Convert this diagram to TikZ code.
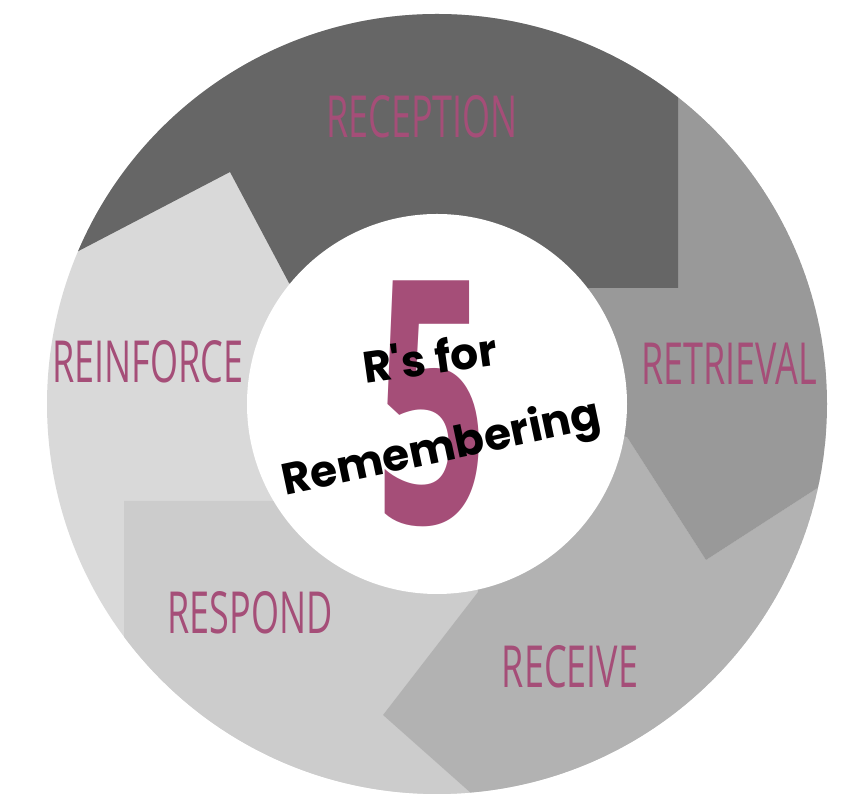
\documentclass[tikz,border=0pt]{standalone}
\usepackage{fontspec}
\setmainfont{Open Sans}
\newfontfamily\handfont{Poppins}
\usepackage{tikz}
\definecolor{rpurple}{HTML}{A54E78}
\tikzset{
  rlabel/.style={text=rpurple, font=\fontsize{58}{58}\selectfont, xscale=0.62, transform shape, inner sep=0pt},
  hand/.style={font=\handfont\bfseries\fontsize{44}{44}\selectfont, inner sep=0pt}
}
\begin{document}
\begin{tikzpicture}[x=1pt,y=1pt]
        \useasboundingbox (0,0) rectangle (868,810);
        \coordinate (O) at (437,406);
        \begin{scope}
            \clip (O) circle (390);
            \fill[black!15] (O) circle (390);
            \fill[black!20] (124,309) -- (437,309) -- (478,218) -- (383,95) -- (490,0) -- (124,0) -- cycle;
            \fill[black!30] (478,218) -- (383,95) -- (490,0) -- (868,0) -- (868,323) -- (819,323) -- (706,250) -- (627,373) -- (O) -- cycle;
            \fill[black!40] (589,522) -- (678,522) -- (678,810) -- (868,810) -- (868,323) -- (819,323) -- (706,250) -- (627,373) -- (O) -- cycle;
            \fill[black!60] (0,518) -- (230,638) -- (289,527) -- (O) -- (589,522) -- (678,522) -- (678,810) -- (0,810) -- cycle;
        \end{scope}
        \fill[white] (O) circle (190);
        \node[rlabel] (reception) at (422,693) {RECEPTION};
        \node[rlabel] (reinforce) at (148,448) {REINFORCE};
        \node[rlabel] (retrieval) at (729,446) {RETRIEVAL};
        \node[rlabel] (respond) at (250,197) {RESPOND};
        \node[rlabel] (receive) at (570,143) {RECEIVE};
        \node[text=rpurple, font=\bfseries\fontsize{340}{340}\selectfont, xscale=0.58, transform shape, inner sep=0pt] (five) at (432,406) {5};
        \node[hand, rotate=8] (rs) at (430,453) {R's for};
        \node[hand, rotate=12] (remember) at (442,360) {Remembering};
    \end{tikzpicture}
\end{document}
